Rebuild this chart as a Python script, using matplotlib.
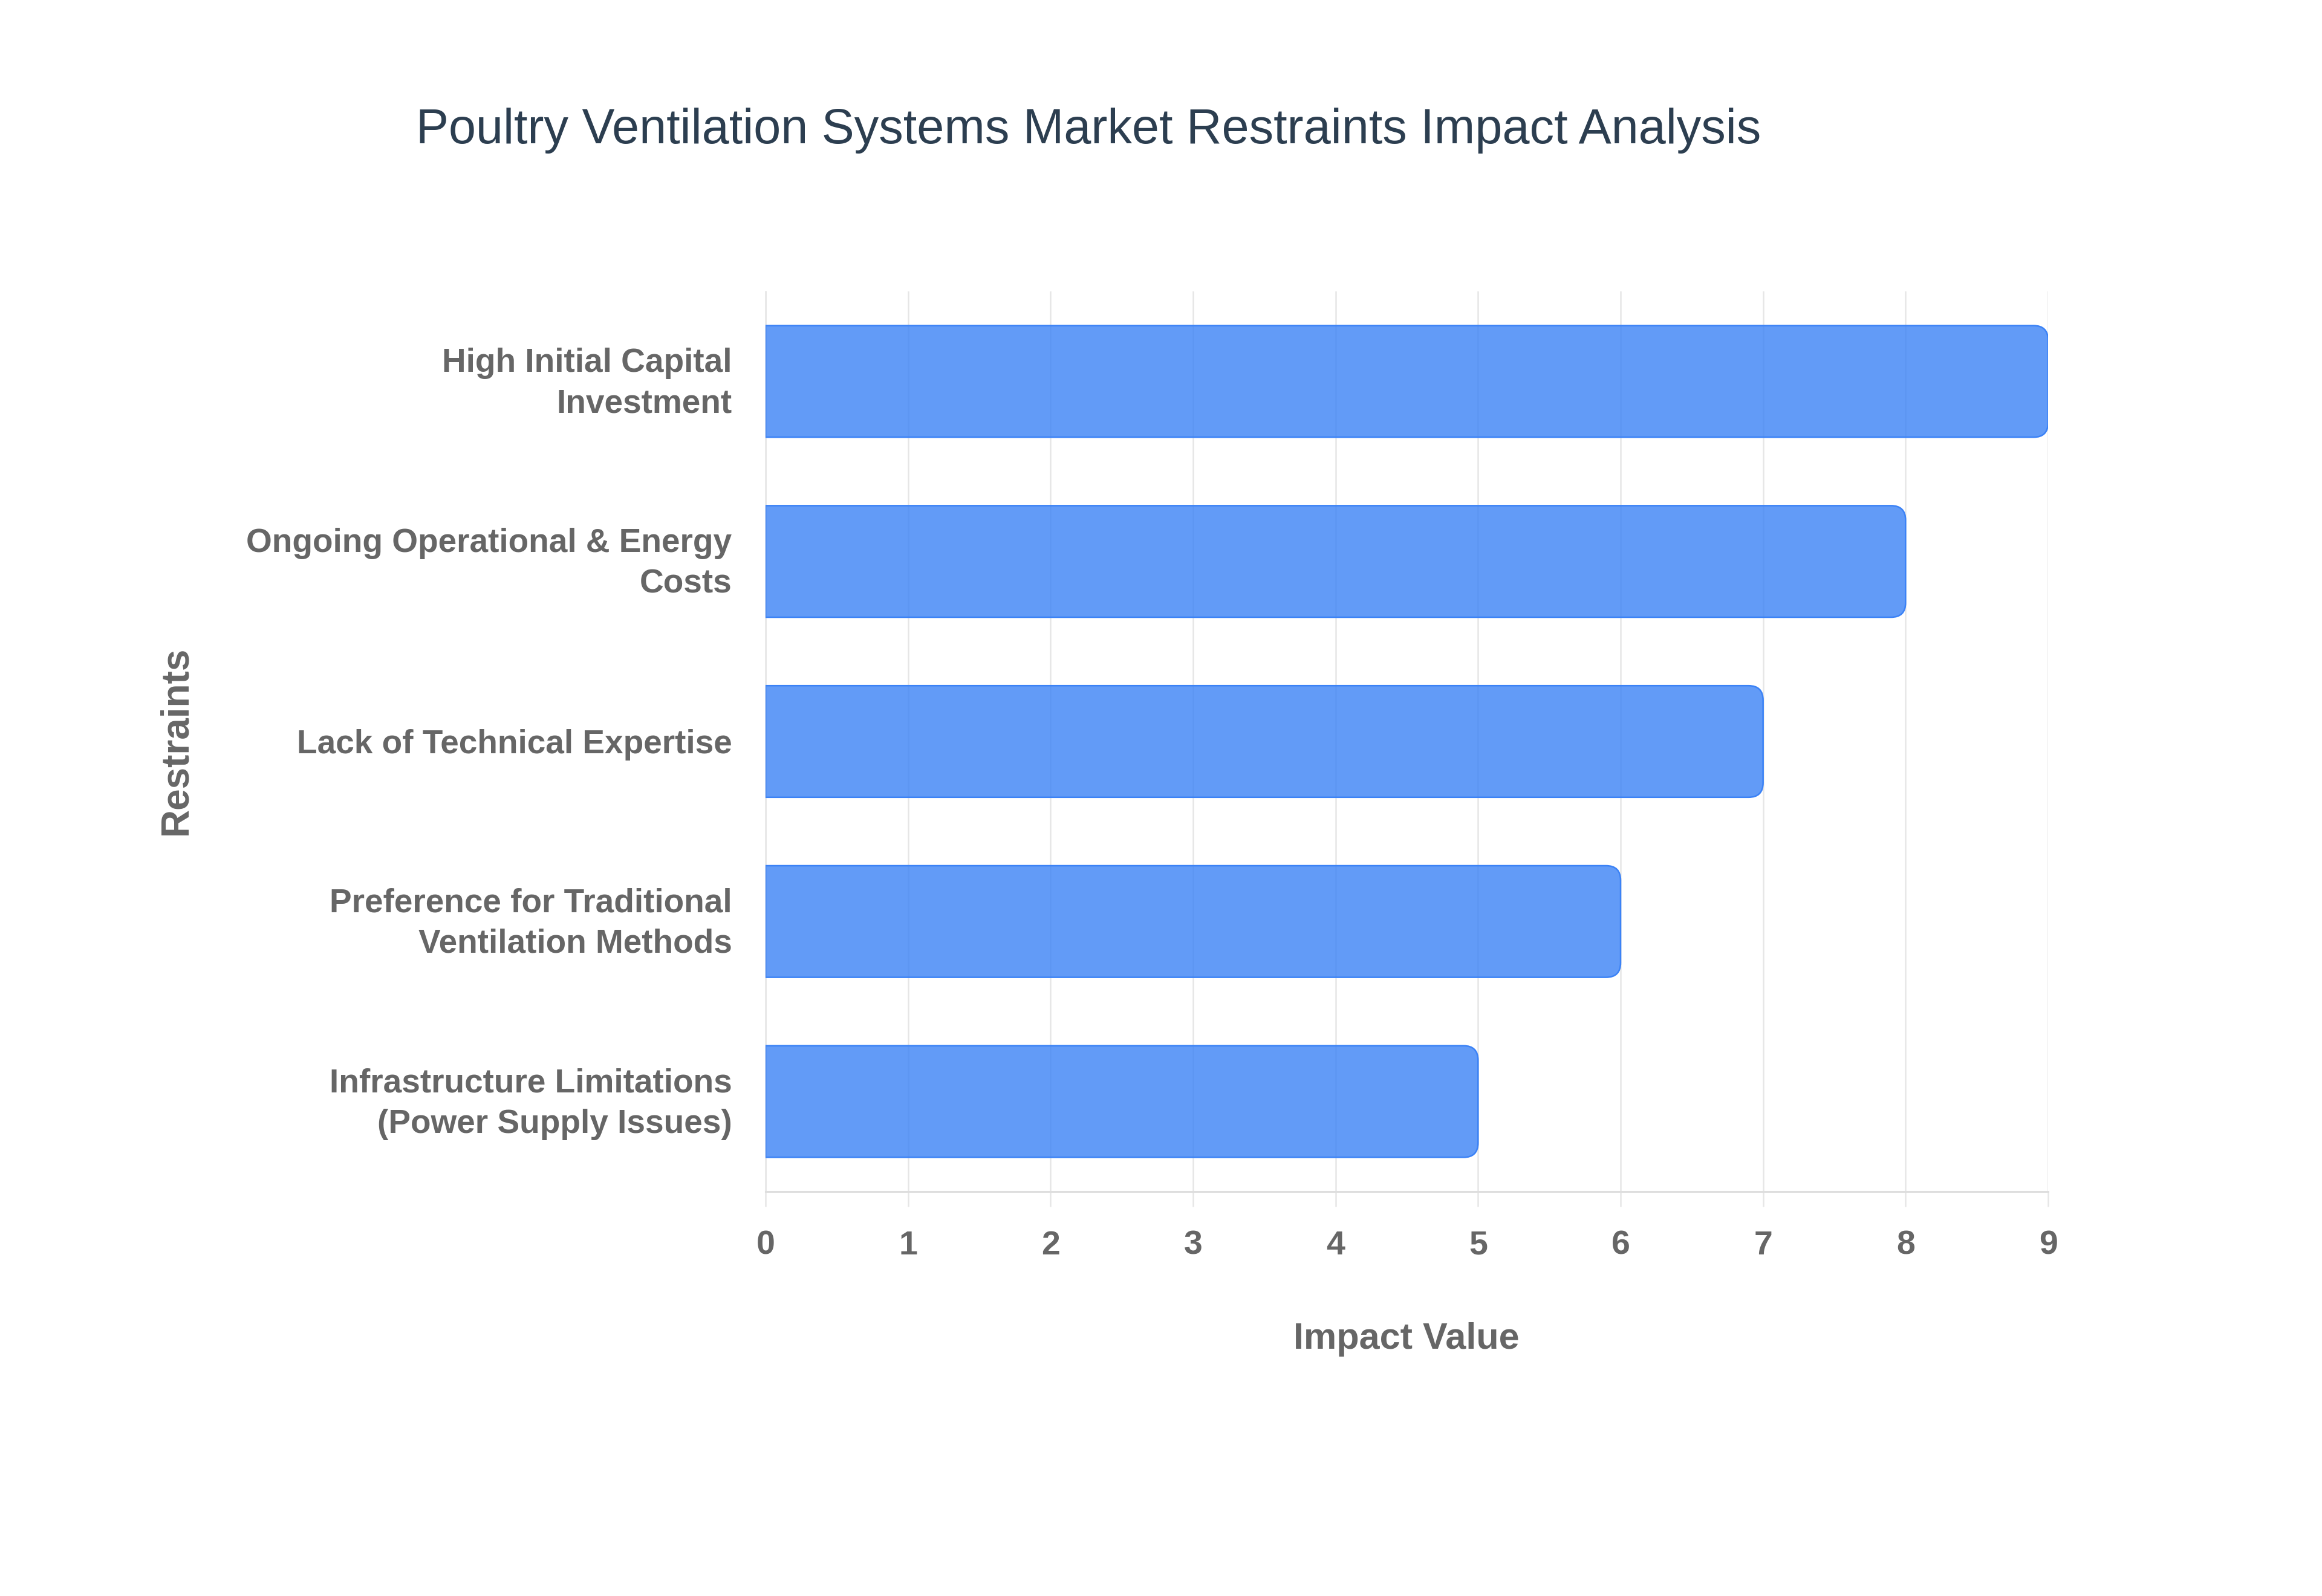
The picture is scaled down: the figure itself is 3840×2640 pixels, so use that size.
import matplotlib
matplotlib.use("Agg")
import matplotlib.pyplot as plt
import matplotlib.transforms as mtransforms
from matplotlib.path import Path
from matplotlib.patches import PathPatch

# ---- data ----
categories = [
    "High Initial Capital\nInvestment",
    "Ongoing Operational & Energy\nCosts",
    "Lack of Technical Expertise",
    "Preference for Traditional\nVentilation Methods",
    "Infrastructure Limitations\n(Power Supply Issues)",
]
values = [9, 8, 7, 6, 5]
x_ticks = [0, 1, 2, 3, 4, 5, 6, 7, 8, 9]
title_text = "Poultry Ventilation Systems Market Restraints Impact Analysis"
x_label = "Impact Value"
y_label = "Restraints"

# ---- style ----
plt.rcParams['font.family'] = ['Liberation Sans', 'DejaVu Sans']
W, H, DPI = 3840, 2640, 200
grid_c = '#e6e6e6'
label_c = '#666666'
fill_c = (59 / 255, 130 / 255, 246 / 255, 0.8)
edge_c = '#3b82f6'

fig = plt.figure(figsize=(W / DPI, H / DPI), dpi=DPI)
fig.patch.set_facecolor('white')
ax = fig.add_axes([1266 / W, 1 - 1971 / H, (3387 - 1266) / W, (1971 - 482) / H])

ax.set_xlim(0, max(x_ticks))
ax.set_ylim(len(categories) - 0.5, -0.5)
ax.set_axisbelow(True)
ax.grid(axis='x', color=grid_c, linewidth=0.9, zorder=0)
ax.grid(axis='y', visible=False)

ypos = list(range(len(categories)))
bars = ax.barh(ypos, values, height=0.62, color='none', edgecolor='none')

# rounded right-hand corners in pixel units
p0 = ax.transData.transform((0, 0))
px_x = ax.transData.transform((1, 0))[0] - p0[0]
px_y = abs(ax.transData.transform((0, 1))[1] - p0[1])
radius = 24
for b in bars:
    x0, y0 = b.get_x(), b.get_y()
    w, h = b.get_width(), b.get_height()
    b.set_visible(False)
    rx = min(radius / px_x, w / 2)
    ry = min(radius / px_y, h / 2)
    x1, y1 = x0 + w, y0 + h
    verts = [(x0, y0), (x1 - rx, y0), (x1, y0), (x1, y0 + ry),
             (x1, y1 - ry), (x1, y1), (x1 - rx, y1), (x0, y1), (x0, y0)]
    codes = [Path.MOVETO, Path.LINETO, Path.CURVE3, Path.CURVE3,
             Path.LINETO, Path.CURVE3, Path.CURVE3, Path.LINETO, Path.CLOSEPOLY]
    ax.add_patch(PathPatch(Path(verts, codes), facecolor=fill_c,
                           edgecolor=edge_c, linewidth=0.9, zorder=3))

ax.set_xticks(x_ticks)
ax.set_xticklabels([str(t) for t in x_ticks])
ax.set_yticks(ypos)
ax.set_yticklabels(categories)

ax.tick_params(axis='x', length=9, width=0.9, color=grid_c, pad=14,
               labelsize=20, labelcolor=label_c)
ax.tick_params(axis='y', length=0, pad=20, labelsize=19.8, labelcolor=label_c)
for lbl in ax.get_xticklabels() + ax.get_yticklabels():
    lbl.set_fontweight('bold')
shift_up = mtransforms.ScaledTranslation(0, 3.5 / 72, fig.dpi_scale_trans)
for lbl in ax.get_yticklabels():
    lbl.set_linespacing(1.38)
    if '\n' in lbl.get_text():
        lbl.set_transform(lbl.get_transform() + shift_up)

for s in ['top', 'right']:
    ax.spines[s].set_visible(False)
ax.spines['left'].set_color(grid_c)
ax.spines['left'].set_linewidth(0.9)
ax.spines['bottom'].set_color('#dedede')
ax.spines['bottom'].set_linewidth(1.1)

fig.text(291 / W, 1 - 1225 / H, y_label, rotation=90, ha='center', va='center',
         fontsize=23, fontweight='bold', color=label_c)
fig.text(2326 / W, 1 - 2216 / H, x_label, ha='center', va='center',
         fontsize=22, fontweight='bold', color=label_c)

t = fig.text(1800 / W, 1 - 216 / H, title_text, ha='center', va='center',
             fontsize=30, color='#2c3e50')
renderer = fig.canvas.get_renderer()
wpx = t.get_window_extent(renderer).width
t.set_fontsize(30 * 2224 / wpx)

fig.savefig('out.png', dpi=DPI, facecolor='white')
